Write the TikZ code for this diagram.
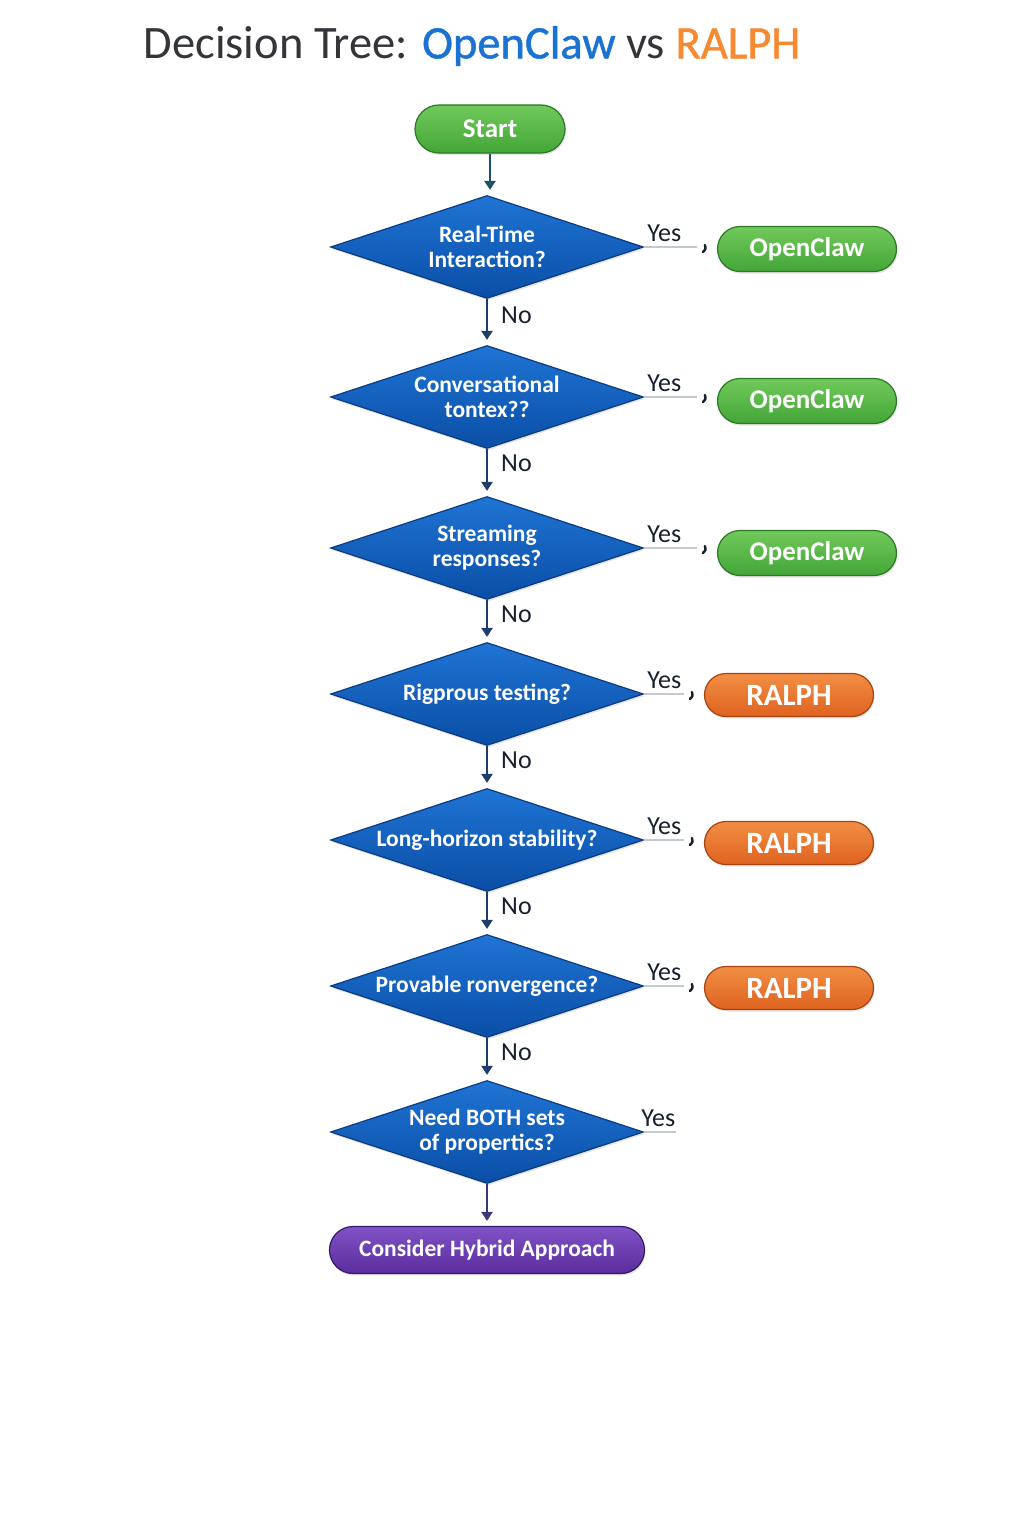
\documentclass[tikz,border=0pt]{standalone}
\usepackage{fontspec}
\setmainfont{Carlito}
\usetikzlibrary{shapes.geometric,shapes.misc,arrows.meta,shadows}
\definecolor{titlegray}{HTML}{333538}
\definecolor{titleblue}{HTML}{1A72D2}
\definecolor{titleorange}{HTML}{F68A32}
\definecolor{dTop}{HTML}{1F74D4}
\definecolor{dBot}{HTML}{0A4EA6}
\definecolor{dBorder}{HTML}{0B3C82}
\definecolor{gTop}{HTML}{70C95A}
\definecolor{gBot}{HTML}{44A638}
\definecolor{gBorder}{HTML}{2A7A26}
\definecolor{oTop}{HTML}{F28F44}
\definecolor{oBot}{HTML}{DE6220}
\definecolor{oBorder}{HTML}{A8420F}
\definecolor{pTop}{HTML}{8053C6}
\definecolor{pBot}{HTML}{5A2C9C}
\definecolor{pBorder}{HTML}{341968}
\definecolor{arrowNavy}{HTML}{1E3D6C}
\definecolor{arrowTeal}{HTML}{1E5068}
\definecolor{arrowPurple}{HTML}{3A3878}
\definecolor{labelDark}{HTML}{18202E}
\definecolor{yesGray}{HTML}{C4C9CF}
\begin{document}
\begin{tikzpicture}[x=1pt,y=-1pt,
  shadowed/.style={drop shadow={opacity=0.22,shadow xshift=1pt,shadow yshift=-2pt}},
  decision/.style={diamond, aspect=3, inner sep=0pt, minimum width=313pt, minimum height=103pt,
    draw=dBorder, line width=1.2pt, top color=dTop, bottom color=dBot, text=white,
    font=\bfseries\fontsize{23.5}{25}\selectfont, align=center, shadowed},
  pill/.style={rounded rectangle, inner sep=0pt, line width=1.2pt, text=white, shadowed},
  greenpill/.style={pill, draw=gBorder, top color=gTop, bottom color=gBot},
  orangepill/.style={pill, draw=oBorder, top color=oTop, bottom color=oBot},
  purplepill/.style={pill, draw=pBorder, top color=pTop, bottom color=pBot},
  flow/.style={line width=2.4pt, -{Triangle[width=11pt,length=9pt]}, shorten >=5pt},
  nolabel/.style={text=labelDark, font=\fontsize{26}{28}\selectfont, anchor=west, inner sep=0pt},
  yeslabel/.style={text=labelDark, font=\fontsize{26}{28}\selectfont, anchor=south west, inner sep=0pt},
  yesline/.style={draw=yesGray, line width=1.6pt},
  ticktip/.style={draw=labelDark, line width=2.4pt, line cap=round}
]
\useasboundingbox (0,0) rectangle (1024,1536);

% title
\node[font=\fontsize{46.5}{50}\selectfont, inner sep=0pt] (title) at (472,46)
  {\color{titlegray}Decision Tree: {\addfontfeature{FakeBold=1}\color{titleblue}OpenClaw} \color{titlegray}vs {\addfontfeature{FakeBold=1}\color{titleorange}RALPH}};

% nodes
\node[greenpill, minimum width=150pt, minimum height=48pt, font=\bfseries\fontsize{27}{29}\selectfont] (start) at (490,129) {Start};

\node[decision] (d1) at (487,247) {Real-Time\\Interaction?};
\node[decision] (d2) at (487,397) {Conversational\\tontex??};
\node[decision] (d3) at (487,548) {Streaming\\responses?};
\node[decision] (d4) at (487,694) {Rigprous testing?};
\node[decision] (d5) at (487,840) {Long-horizon stability?};
\node[decision] (d6) at (487,986) {Provable ronvergence?};
\node[decision] (d7) at (487,1132) {Need BOTH sets\\of propertics?};

\node[greenpill, minimum width=179pt, minimum height=45pt, font=\bfseries\fontsize{27}{29}\selectfont] (o1) at (807,249) {OpenClaw};
\node[greenpill, minimum width=179pt, minimum height=45pt, font=\bfseries\fontsize{27}{29}\selectfont] (o2) at (807,401) {OpenClaw};
\node[greenpill, minimum width=179pt, minimum height=45pt, font=\bfseries\fontsize{27}{29}\selectfont] (o3) at (807,553) {OpenClaw};

\node[orangepill, minimum width=169pt, minimum height=43pt, font=\bfseries\fontsize{31}{33}\selectfont] (r1) at (789,695) {RALPH};
\node[orangepill, minimum width=169pt, minimum height=43pt, font=\bfseries\fontsize{31}{33}\selectfont] (r2) at (789,843) {RALPH};
\node[orangepill, minimum width=169pt, minimum height=43pt, font=\bfseries\fontsize{31}{33}\selectfont] (r3) at (789,988) {RALPH};

\node[purplepill, minimum width=315pt, minimum height=47pt, font=\bfseries\fontsize{23.5}{25}\selectfont] (hyb) at (487,1250) {Consider Hybrid Approach};

% vertical flow
\draw[flow, draw=arrowTeal, fill=arrowTeal] (start.south) -- (start.south |- d1.north);
\draw[flow, draw=arrowNavy, fill=arrowNavy] (d1.south) -- node[nolabel, pos=0.35, xshift=13pt]{No} (d2.north);
\draw[flow, draw=arrowNavy, fill=arrowNavy] (d2.south) -- node[nolabel, pos=0.3, xshift=13pt]{No} (d3.north);
\draw[flow, draw=arrowNavy, fill=arrowNavy] (d3.south) -- node[nolabel, pos=0.35, xshift=13pt]{No} (d4.north);
\draw[flow, draw=arrowNavy, fill=arrowNavy] (d4.south) -- node[nolabel, pos=0.35, xshift=13pt]{No} (d5.north);
\draw[flow, draw=arrowNavy, fill=arrowNavy] (d5.south) -- node[nolabel, pos=0.35, xshift=13pt]{No} (d6.north);
\draw[flow, draw=arrowNavy, fill=arrowNavy] (d6.south) -- node[nolabel, pos=0.35, xshift=13pt]{No} (d7.north);
\draw[flow, draw=arrowPurple, fill=arrowPurple] (d7.south) -- (hyb.north);

% yes connectors
\foreach \d/\b in {d1/o1, d2/o2, d3/o3, d4/r1, d5/r2, d6/r3}{
  \draw[yesline, shorten >=20pt] (\d.east) -- (\d.east -| \b.west);
  \node[yeslabel] at ([xshift=3pt,yshift=5pt]\d.east) {Yes};
  \draw[ticktip] ([xshift=-12pt,yshift=2pt]\d.east -| \b.west) .. controls ([xshift=-11pt,yshift=-2pt]\d.east -| \b.west) .. ([xshift=-14pt,yshift=-5pt]\d.east -| \b.west);
}
\coordinate (yesend) at ([xshift=32pt]d7.east);
\draw[yesline] (d7.east) -- (yesend);
\node[yeslabel] at ([xshift=-3pt,yshift=5pt]d7.east) {Yes};
\end{tikzpicture}
\end{document}
